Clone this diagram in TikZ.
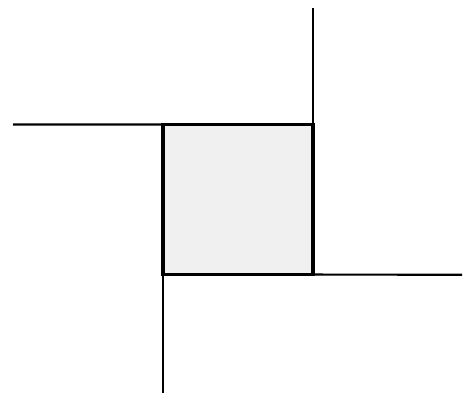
\documentclass[tikz,border=0pt]{standalone}
\begin{document}
\begin{tikzpicture}[x=1pt,y=1pt,
  box/.style={draw=black, fill=boxgray, line width=3.4pt, minimum size=150pt, inner sep=0pt, outer sep=0pt},
  wire/.style={draw=black, line width=2.2pt}]
\definecolor{boxgray}{HTML}{F0F0F0}
\useasboundingbox (0,0) rectangle (474,403);
\coordinate (lft) at (13,278.5);
\coordinate (top) at (313,395);
\coordinate (rgt) at (462,128.3);
\coordinate (bot) at (163,10);
\node[box] (sq) at (238,203.4) {};
\draw[wire] (lft) -- (sq.north west);
\draw[wire] (sq.north east) -- (top);
\draw[wire] (sq.south east) -- (rgt);
\draw[wire] (sq.south west) -- (bot);
\end{tikzpicture}
\end{document}
